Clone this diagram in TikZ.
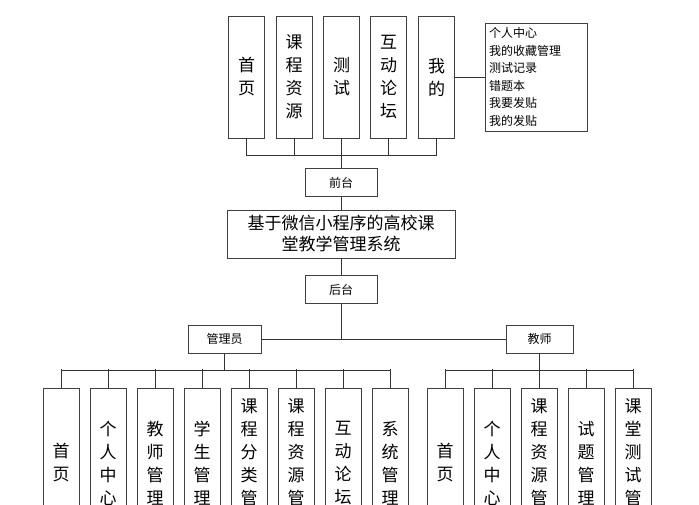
\documentclass[tikz,border=0pt]{standalone}
\usepackage{fontspec}
\setmainfont{Noto Sans CJK SC}
\begin{document}
\begin{tikzpicture}[x=1pt,y=-1pt,
  bx/.style={draw=black!75,line width=0.9pt,inner sep=0pt,align=center},
  vb/.style={bx,minimum width=36pt,font=\fontsize{17}{23}\selectfont},
  hb/.style={bx,minimum width=72pt,minimum height=28pt,font=\fontsize{12}{14}\selectfont},
  ln/.style={draw=black!80,line width=0.8pt}]
\useasboundingbox (0,0) rectangle (699,504);
\clip (0,0) rectangle (699,504);
% top
\node[vb,minimum height=122pt] (t1) at (246.5,77) {首\\页};
\node[vb,minimum height=122pt] (t2) at (294,77) {课\\程\\资\\源};
\node[vb,minimum height=122pt] (t3) at (341.5,77) {测\\试};
\node[vb,minimum height=122pt] (t4) at (388.5,77) {互\\动\\论\\坛};
\node[vb,minimum height=122pt] (t5) at (436.5,77) {我\\的};
\node[bx,minimum width=102pt,minimum height=108pt,text width=94pt,align=left,font=\fontsize{12}{17.5}\selectfont] (lst) at (536,77) {个人中心\\我的收藏管理\\测试记录\\错题本\\我要发贴\\我的发贴};
\draw[ln] (t5.east) -- (lst.west);
\node[hb] (qt) at (341,182.5) {前台};
\node[bx,minimum width=228pt,minimum height=48pt,font=\fontsize{17}{21}\selectfont] (main) at (341,234) {基于微信小程序的高校课\\堂教学管理系统};
\node[hb] (ht) at (341,289.5) {后台};
\node[hb,minimum width=73pt] (gl) at (224.5,339) {管理员};
\node[hb,minimum width=67pt] (js) at (539.5,339) {教师};
\coordinate (bus1) at (341,155);
\foreach \n in {t1,t2,t3,t4,t5} \draw[ln] (\n.south) |- (bus1);
\draw[ln] (t1.south |- bus1) -- (t5.south |- bus1);
\draw[ln] (bus1) -- (qt.north);
\draw[ln] (qt.south) -- (main.north);
\draw[ln] (main.south) -- (ht.north);
\draw[ln] (ht.south) -- (ht.south |- gl.east);
\draw[ln] (gl.east) -- (js.west);
% admin children
\foreach \i/\t in {1/首\\页,2/个\\人\\中\\心,3/教\\师\\管\\理,4/学\\生\\管\\理,5/课\\程\\分\\类\\管\\理,6/课\\程\\资\\源\\管\\理,7/互\\动\\论\\坛,8/系\\统\\管\\理}{
  \node[vb,minimum height=150pt] (a\i) at ({61+47*(\i-1)},463) {\t};
  \draw[ln] (a\i.north) -- ++(0,-19);
}
\draw[ln] (61,370) -- (390,370);
\draw[ln] (gl.south) -- (224.5,370);
\foreach \i/\t in {1/首\\页,2/个\\人\\中\\心,3/课\\程\\资\\源\\管\\理,4/试\\题\\管\\理,5/课\\堂\\测\\试\\管\\理}{
  \node[vb,minimum height=150pt] (b\i) at ({445+47*(\i-1)},463) {\t};
  \draw[ln] (b\i.north) -- ++(0,-19);
}
\draw[ln] (445,370) -- (633,370);
\draw[ln] (js.south) -- (539.5,370);
\end{tikzpicture}
\end{document}
